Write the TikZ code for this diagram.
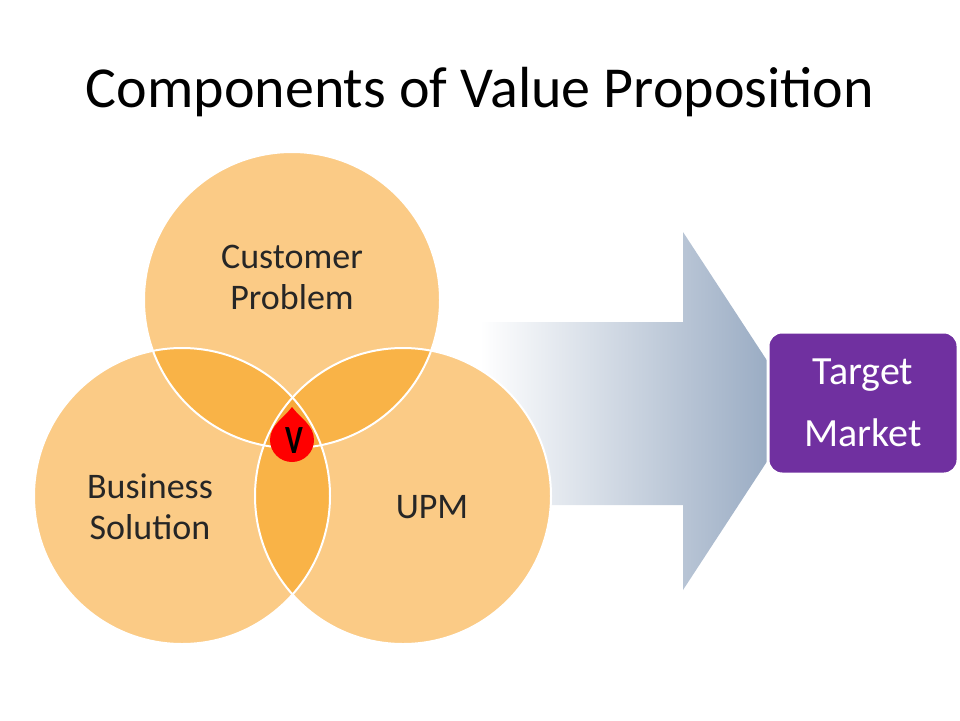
\documentclass[tikz,border=0pt]{standalone}
\usepackage{fontspec}
\setmainfont{Carlito}
\definecolor{petal}{HTML}{FBCB86}
\definecolor{overlap}{HTML}{F9B347}
\definecolor{core}{HTML}{F7A93A}
\definecolor{arrowgrey}{HTML}{8FA3BD}
\definecolor{marketpurple}{HTML}{7030A0}
\begin{document}
\begin{tikzpicture}[x=1pt,y=-1pt,
    petal/.style={circle, fill=petal, minimum size=296pt, inner sep=0pt},
    rim/.style={draw=white, line width=2pt},
    lbl/.style={font=\fontsize{36}{41}\selectfont, align=center, text=black!85}
]
\useasboundingbox (0,0) rectangle (960,720);

% Title
\node[font=\fontsize{58}{64}\selectfont] (title) at (480,92) {Components of Value Proposition};

% Arrow
\path[left color=white, right color=arrowgrey]
  (480,322) coordinate (tail) -- (683,322) -- (683,232) -- (800,411) coordinate (tip)
  -- (683,590) -- (683,505) -- (480,505) -- cycle;

% Circles
\node[petal] (problem) at (292,300) {};
\node[petal] (solution) at (182,496) {};
\node[petal] (upm) at (403,496) {};

% Overlaps
\begin{scope}
  \clip (problem.center) circle (148);
  \fill[overlap] (solution.center) circle (148);
  \fill[overlap] (upm.center) circle (148);
\end{scope}
\begin{scope}
  \clip (solution.center) circle (148);
  \fill[overlap] (upm.center) circle (148);
  \clip (upm.center) circle (148);
  \fill[core] (problem.center) circle (148);
\end{scope}
\draw[rim] (problem.center) circle (148);
\draw[rim] (solution.center) circle (148);
\draw[rim] (upm.center) circle (148);

% Labels
\node[lbl] at (292,277) {Customer\\Problem};
\node[lbl] at (150,507) {Business\\Solution};
\node[lbl] at (432,507) {UPM};

% Drop
\fill[red] (292,407) .. controls (300,418) and (314,425) .. (314,440)
  arc (0:180:22) .. controls (270,425) and (284,418) .. (292,407) -- cycle;
\node[font=\fontsize{40}{40}\selectfont\bfseries, xscale=0.75, text=black,
  draw=black, line width=0.8pt, inner sep=0pt, draw opacity=0] (v) at (294,441) {V};

% Target market
\node[draw=white, line width=3pt, fill=marketpurple, rounded corners=14pt,
  minimum width=190pt, minimum height=142pt, text=white, align=center,
  font=\fontsize{40}{62}\selectfont] (market) at (863,403) {Target\\Market};
\end{tikzpicture}
\end{document}
